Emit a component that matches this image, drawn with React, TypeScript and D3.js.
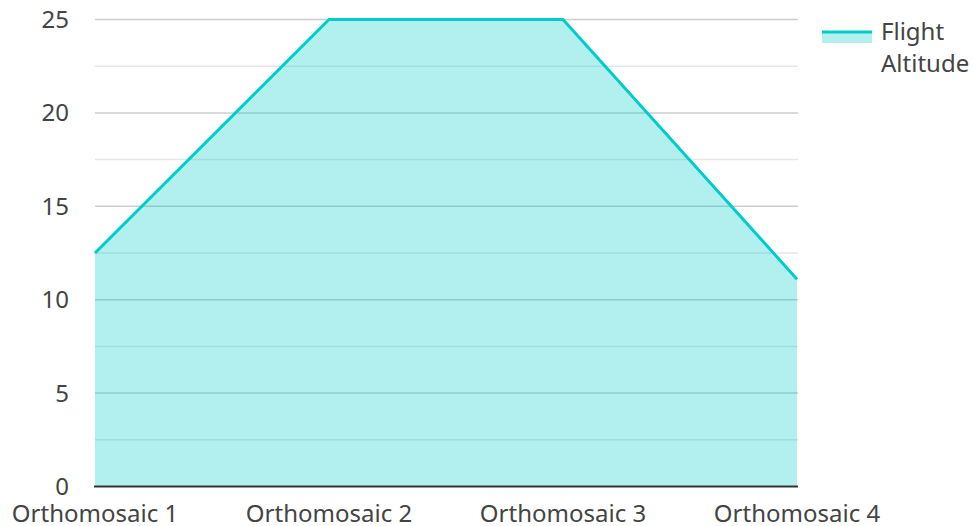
import React from "react";
import * as d3 from "d3";

const categories = ["Orthomosaic 1", "Orthomosaic 2", "Orthomosaic 3", "Orthomosaic 4"];
const altitude = [12.5, 25, 25, 11.1];
const yTicks = [0, 5, 10, 15, 20, 25];
const minorTicks = [2.5, 7.5, 12.5, 17.5, 22.5];
const seriesName = ["Flight", "Altitude"];

const W = 973, H = 526;
const left = 95, right = 797, top = 19.5, bottom = 486.5;
const FONT = "'Noto Sans', 'Open Sans', sans-serif";
const FS = 24;

export default function App() {
  const x = d3.scalePoint<string>().domain(categories).range([left, right]);
  const y = d3.scaleLinear().domain([0, 25]).range([bottom, top]);
  const data = categories.map((c, i) => ({ c, v: altitude[i] }));
  const area = d3.area<{ c: string; v: number }>().x(d => x(d.c)!).y0(y(0)).y1(d => y(d.v));
  const line = d3.line<{ c: string; v: number }>().x(d => x(d.c)!).y(d => y(d.v));
  return (
    <svg width={W} height={H} style={{ position: "absolute", left: 0, top: 0 }} fontFamily={FONT}>
      {minorTicks.map(t => (
        <line key={"m" + t} x1={left} x2={right + 1} y1={y(t)} y2={y(t)} stroke="#e6e6e6" strokeWidth={1.5} />
      ))}
      {yTicks.filter(t => t > 0).map(t => (
        <line key={"g" + t} x1={left} x2={right + 1} y1={y(t)} y2={y(t)} stroke="#cccccc" strokeWidth={1.5} />
      ))}
      <path d={area(data)!} fill="rgba(0,204,204,0.3)" />
      <path d={line(data)!} fill="none" stroke="#00cccc" strokeWidth={3} strokeLinejoin="miter" />
      <line x1={left - 1} x2={right + 1} y1={y(0)} y2={y(0)} stroke="#333" strokeWidth={2} />
      {yTicks.map(t => (
        <text key={"t" + t} x={69} y={y(t)} dy="0.35em" textAnchor="end" fontSize={FS} fill="#444">{t}</text>
      ))}
      {categories.map(c => (
        <text key={c} x={x(c)} y={522} textAnchor="middle" fontSize={FS} fill="#444">{c}</text>
      ))}
      <rect x={822} y={31} width={50} height={12} fill="rgba(0,204,204,0.3)" />
      <line x1={822} x2={872} y1={32} y2={32} stroke="#00cccc" strokeWidth={3} />
      {seriesName.map((s, i) => (
        <text key={s} x={881} y={40 + i * 32} fontSize={FS} fill="#444">{s}</text>
      ))}
    </svg>
  );
}
